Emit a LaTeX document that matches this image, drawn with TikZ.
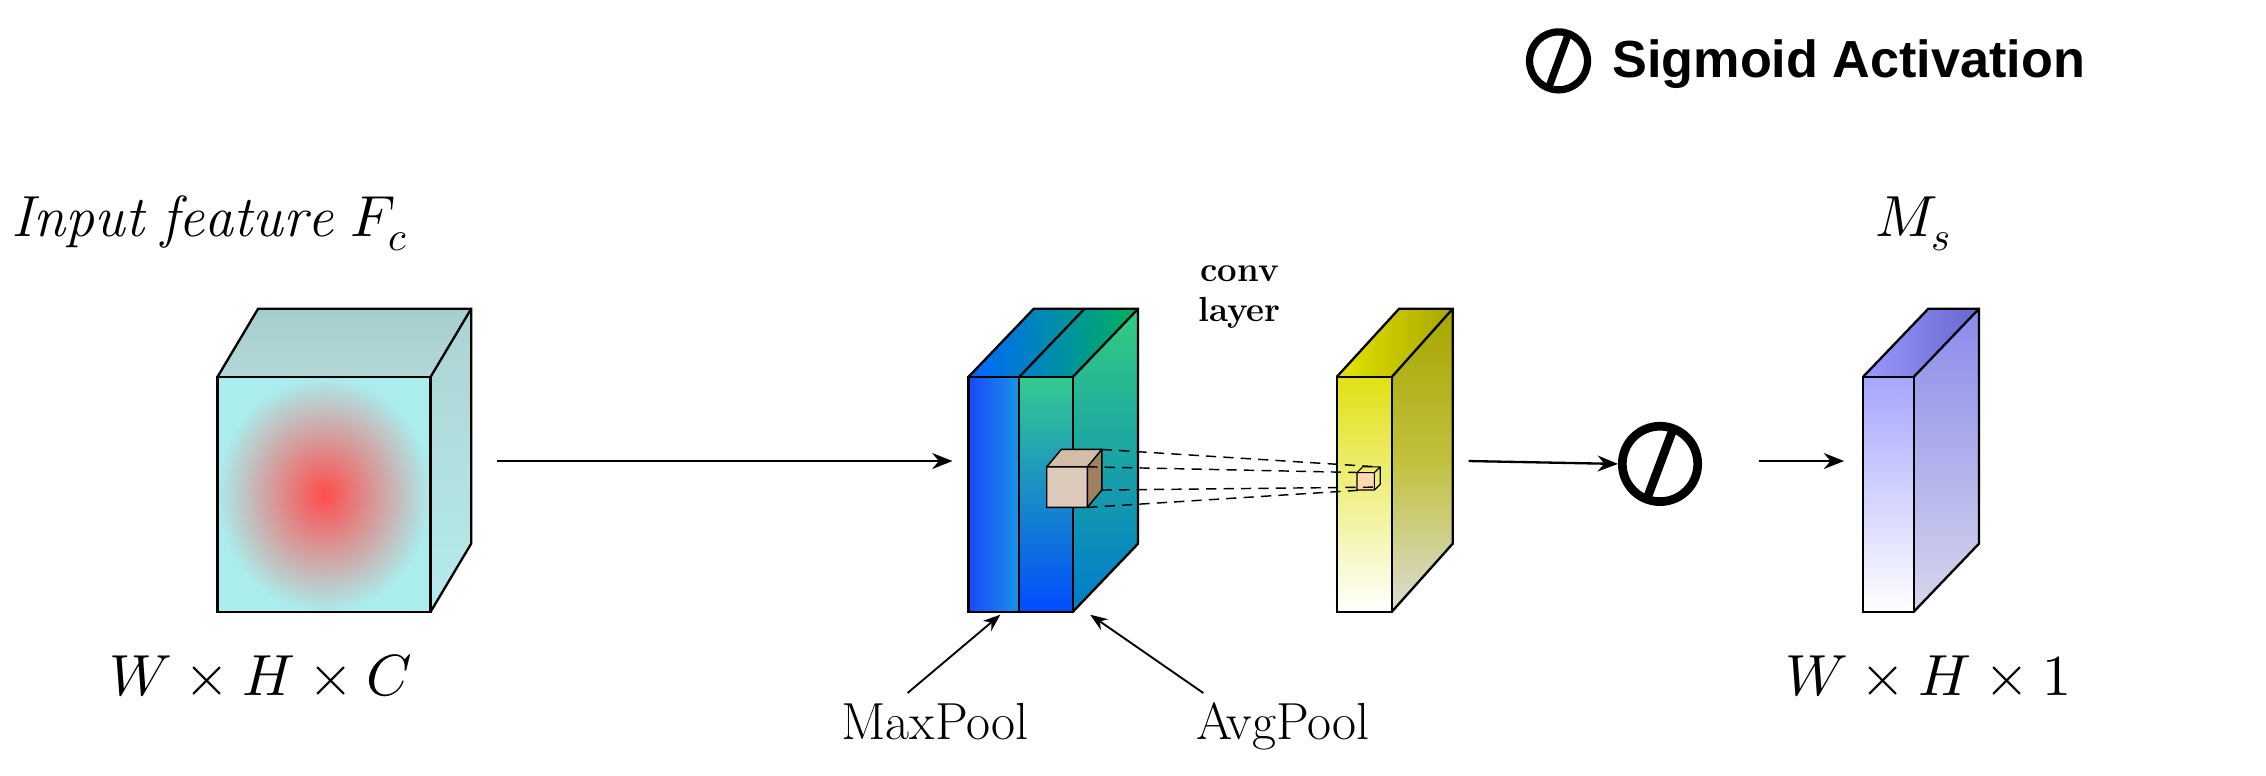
\documentclass[tikz,border=0pt]{standalone}
\usepackage{unicode-math}
\setmathfont{Latin Modern Math}
\newfontfamily\sansb{Liberation Sans}
\usetikzlibrary{arrows.meta,calc}
\begin{document}
\begin{tikzpicture}[x=1pt,y=-1pt,
  edge/.style={line width=1.6pt},
  conn/.style={line width=1.6pt,-{Stealth[length=14pt,width=11pt]}},
  lbl/.style={inner sep=0pt,font=\fontsize{40}{44}\selectfont},
  sig/.style={circle,draw,line width=5pt,minimum size=#1,inner sep=0pt}]
\useasboundingbox (0,0) rectangle (1563,535);
% ---- input cube
\fill[top color=cyan!30!gray!55, bottom color=cyan!30!gray!45] (150,260)--(178,213)--(325,213)--(297,260)--cycle;
\fill[top color=cyan!30!gray!50, bottom color=cyan!25!white!85!gray] (297,260)--(325,213)--(325,375)--(297,422)--cycle;
\shade[inner color=red!70!white, outer color=cyan!30!white!85!gray] (150,260) rectangle (297,422);
\draw[edge] (150,260) rectangle (297,422);
\draw[edge] (150,260)--(178,213)--(325,213)--(325,375)--(297,422) (297,260)--(325,213);
\node[lbl,anchor=base west] (inp) at (8,163) {$\mathit{Input\ feature}\ F_c$};
\node[lbl,anchor=base] (whc) at (180,480) {$W\times H\times C$};
% ---- pooled block
\fill[left color=blue!60!cyan, right color=cyan!50!green!70!black] (668,260)--(713,213)--(785,213)--(740,260)--cycle;
\fill[top color=green!50!cyan!60!gray, bottom color=blue!40!cyan!80!black] (740,260)--(785,213)--(785,375)--(740,422)--cycle;
\fill[left color=blue!80!cyan!90!white, right color=cyan!60!blue!80!gray] (668,260) rectangle (703,422);
\fill[top color=green!40!cyan!60!gray, bottom color=blue!70!cyan] (703,260) rectangle (740,422);
\draw[edge] (668,260) rectangle (740,422) (703,260)--(703,422);
\draw[edge] (668,260)--(713,213)--(785,213)--(785,375)--(740,422) (703,260)--(748,213) (740,260)--(785,213);
% small cube
\fill[brown!30!white!85!gray] (722,322) rectangle (750,350);
\fill[brown!40!white!80!gray] (722,322)--(732,310)--(760,310)--(750,322)--cycle;
\fill[brown!50!gray] (750,322)--(760,310)--(760,338)--(750,350)--cycle;
\draw[line width=1pt] (722,322) rectangle (750,350) (722,322)--(732,310)--(760,310)--(760,338)--(750,350) (750,322)--(760,310);
% ---- conv output slab
\fill[left color=yellow!80!olive, right color=olive!70!yellow] (922,260)--(965,213)--(1002,213)--(960,260)--cycle;
\fill[top color=olive!70!yellow, bottom color=yellow!10!gray!30!white] (960,260)--(1002,213)--(1002,375)--(960,422)--cycle;
\fill[top color=yellow!70!olive!80!white, bottom color=white] (922,260) rectangle (960,422);
\draw[edge] (922,260) rectangle (960,422);
\draw[edge] (922,260)--(965,213)--(1002,213)--(1002,375)--(960,422) (960,260)--(1002,213);
\fill[orange!30!white] (936,326) rectangle (948,338);
\draw[line width=0.8pt] (936,326) rectangle (948,338) (936,326)--(940,322)--(952,322)--(952,334)--(948,338) (948,326)--(952,322);
\coordinate (k1) at (760,310); \coordinate (k2) at (760,338);
\coordinate (t1) at (950,322); \coordinate (t2) at (950,336);
\draw[line width=1pt,dashed,dash pattern=on 7pt off 5pt] (k1)--(t1) (k2)--(t2) (750,322)--(940,326) (750,350)--(940,338);
\node[inner sep=0pt,font=\fontsize{24}{28}\selectfont\bfseries,align=center] (cl) at (855,205) {conv\\layer};
% ---- sigmoid
\node[sig=52pt,line width=6pt] (s) at (1145,320) {};
\draw[line width=6pt] ($(s)+(9,-24)$) -- ($(s)+(-9,24)$);
% ---- Ms slab
\fill[left color=blue!40!white, right color=blue!50!gray!80!white] (1285,260)--(1330,213)--(1365,213)--(1320,260)--cycle;
\fill[top color=blue!45!white!85!gray, bottom color=blue!10!white!85!gray] (1320,260)--(1365,213)--(1365,375)--(1320,422)--cycle;
\fill[top color=blue!35!white, bottom color=white] (1285,260) rectangle (1320,422);
\draw[edge] (1285,260) rectangle (1320,422);
\draw[edge] (1285,260)--(1330,213)--(1365,213)--(1365,375)--(1320,422) (1320,260)--(1365,213);
\node[lbl,anchor=base] (ms) at (1320,163) {$M_s$};
\node[lbl,anchor=base] (wh1) at (1330,480) {$W\times H\times 1$};
% ---- connectors
\coordinate (a0) at (343,318); \coordinate (a1) at (657,318);
\draw[conn] (a0)--(a1);
\coordinate (b0) at (1013,318);
\draw[conn] (b0)--(s.west);
\coordinate (c0) at (1213,318); \coordinate (c1) at (1272,318);
\draw[conn] (c0)--(c1);
% pool labels
\node[lbl,anchor=base,font=\fontsize{36}{40}\selectfont] (mp) at (645,510) {MaxPool};
\node[lbl,anchor=base,font=\fontsize{36}{40}\selectfont] (ap) at (885,510) {AvgPool};
\coordinate (mpt) at (690,424); \coordinate (apt) at (752,424);
\draw[line width=1.3pt,-{Stealth[length=12pt,width=9pt]}] (626,478)--(mpt);
\draw[line width=1.3pt,-{Stealth[length=12pt,width=9pt]}] (830,478)--(apt);
% legend
\node[sig=40pt,line width=5pt] (ls) at (1075,42) {};
\draw[line width=5pt] ($(ls)+(7,-19)$) -- ($(ls)+(-7,19)$);
\node[inner sep=0pt,anchor=west,font=\sansb\bfseries\fontsize{36}{40}\selectfont] (lt) at (1112,44) {Sigmoid Activation};
\end{tikzpicture}
\end{document}
